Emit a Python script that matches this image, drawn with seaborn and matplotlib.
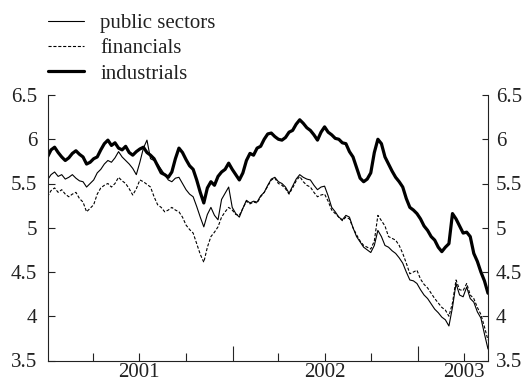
import numpy as np
import pandas as pd
import matplotlib
matplotlib.use("Agg")
import matplotlib.pyplot as plt
import seaborn as sns

# Weekly yields (%), starting on the first Monday of 2001
start_date = "2001-01-01"

public_sectors = [
    5.54, 5.60, 5.63, 5.58, 5.60, 5.55, 5.57, 5.60, 5.56, 5.53,
    5.52, 5.46, 5.50, 5.54, 5.62, 5.66, 5.72, 5.76, 5.74, 5.79,
    5.86, 5.80, 5.76, 5.72, 5.67, 5.60, 5.74, 5.90, 5.99, 5.78,
    5.76, 5.72, 5.66, 5.60, 5.54, 5.52, 5.56, 5.57, 5.50, 5.43,
    5.38, 5.35, 5.24, 5.12, 5.01, 5.15, 5.23, 5.14, 5.09, 5.32,
    5.39, 5.46, 5.23, 5.16, 5.12, 5.22, 5.31, 5.28, 5.30, 5.29,
    5.36, 5.40, 5.48, 5.55, 5.57, 5.52, 5.50, 5.46, 5.39, 5.47,
    5.55, 5.60, 5.57, 5.55, 5.54, 5.48, 5.43, 5.46, 5.47, 5.36,
    5.23, 5.18, 5.12, 5.09, 5.14, 5.12, 5.00, 4.90, 4.84, 4.78,
    4.75, 4.72, 4.80, 4.97, 4.90, 4.80, 4.78, 4.74, 4.71, 4.66,
    4.60, 4.50, 4.41, 4.40, 4.37, 4.30, 4.24, 4.20, 4.14, 4.08,
    4.04, 3.99, 3.96, 3.89, 4.10, 4.37, 4.24, 4.22, 4.33, 4.20,
    4.16, 4.05, 3.98, 3.80, 3.63,
]

financials = [
    5.35, 5.42, 5.45, 5.40, 5.43, 5.38, 5.35, 5.38, 5.40, 5.33,
    5.29, 5.18, 5.22, 5.26, 5.38, 5.45, 5.48, 5.50, 5.46, 5.50,
    5.57, 5.53, 5.50, 5.44, 5.37, 5.44, 5.54, 5.52, 5.49, 5.46,
    5.35, 5.26, 5.23, 5.18, 5.20, 5.23, 5.20, 5.18, 5.12, 5.03,
    4.98, 4.94, 4.82, 4.70, 4.61, 4.78, 4.90, 4.95, 5.01, 5.12,
    5.18, 5.23, 5.20, 5.15, 5.14, 5.22, 5.30, 5.27, 5.29, 5.28,
    5.35, 5.40, 5.47, 5.54, 5.56, 5.50, 5.48, 5.44, 5.38, 5.45,
    5.53, 5.58, 5.52, 5.48, 5.46, 5.40, 5.35, 5.37, 5.38, 5.30,
    5.20, 5.16, 5.12, 5.08, 5.12, 5.10, 5.00, 4.92, 4.85, 4.80,
    4.78, 4.76, 4.85, 5.14, 5.08, 5.02, 4.90, 4.88, 4.86, 4.80,
    4.71, 4.60, 4.48, 4.50, 4.52, 4.42, 4.36, 4.32, 4.26, 4.20,
    4.15, 4.10, 4.07, 4.00, 4.15, 4.41, 4.30, 4.29, 4.37, 4.24,
    4.20, 4.10, 4.02, 3.88, 3.73,
]

industrials = [
    5.80, 5.88, 5.91, 5.85, 5.80, 5.76, 5.79, 5.84, 5.87, 5.83,
    5.80, 5.72, 5.74, 5.78, 5.80, 5.88, 5.95, 5.99, 5.93, 5.96,
    5.90, 5.88, 5.92, 5.85, 5.82, 5.86, 5.89, 5.91, 5.85, 5.82,
    5.78, 5.70, 5.62, 5.60, 5.57, 5.63, 5.78, 5.90, 5.85, 5.77,
    5.70, 5.66, 5.54, 5.40, 5.28, 5.45, 5.52, 5.48, 5.58, 5.63,
    5.66, 5.73, 5.66, 5.60, 5.54, 5.62, 5.76, 5.84, 5.82, 5.90,
    5.92, 6.00, 6.06, 6.07, 6.03, 6.00, 5.99, 6.02, 6.08, 6.10,
    6.17, 6.22, 6.18, 6.13, 6.10, 6.05, 5.99, 6.08, 6.14, 6.08,
    6.05, 6.01, 6.00, 5.96, 5.95, 5.86, 5.80, 5.68, 5.56, 5.52,
    5.55, 5.62, 5.85, 6.00, 5.95, 5.80, 5.72, 5.64, 5.57, 5.52,
    5.46, 5.33, 5.23, 5.20, 5.16, 5.10, 5.02, 4.97, 4.90, 4.86,
    4.78, 4.73, 4.78, 4.82, 5.16, 5.10, 5.02, 4.94, 4.95, 4.90,
    4.71, 4.62, 4.50, 4.40, 4.26,
]

series_names = ["public sectors", "financials", "industrials"]

y_ticks = [3.5, 4, 4.5, 5, 5.5, 6, 6.5]
y_tick_labels = ["3.5", "4", "4.5", "5", "5.5", "6", "6.5"]

quarter_ticks = ["2001-04-01", "2001-07-01", "2001-10-01",
                 "2002-04-01", "2002-07-01", "2002-10-01", "2003-04-01"]
year_ticks = ["2002-01-01", "2003-01-01"]
labelled_quarters = {"2001-07-01": "2001", "2002-07-01": "2002",
                     "2003-04-01": "2003"}

dates = pd.date_range(start_date, periods=len(public_sectors), freq="7D")
df = pd.DataFrame({
    "date": np.tile(dates, 3),
    "yield": public_sectors + financials + industrials,
    "series": np.repeat(series_names, len(dates)),
})

sns.set_style("ticks")
plt.rcParams["font.family"] = ["Liberation Serif", "DejaVu Serif"]
plt.rcParams["font.size"] = 15

text_color = "#222222"
fig = plt.figure(figsize=(5.25, 3.81), dpi=100)
ax = fig.add_axes([47.5 / 525, 1 - 360.5 / 381, 440.5 / 525, 265.5 / 381])

styles = {
    "public sectors": dict(lw=0.8, ls="-"),
    "financials": dict(lw=0.8, ls=(0, (2.8, 1.6))),
    "industrials": dict(lw=2.3, ls="-"),
}
for name in series_names:
    sns.lineplot(data=df[df["series"] == name], x="date", y="yield",
                 ax=ax, color="black", label=name, **styles[name])

ax.set_xlim(dates[0], dates[-1])
ax.set_ylim(3.5, 6.5)
ax.set_xlabel("")
ax.set_ylabel("")

ax.set_yticks(y_ticks)
ax.set_yticklabels(y_tick_labels)
ax.tick_params(axis="y", direction="in", length=5, width=0.8,
               left=True, right=False, labelleft=True, labelright=False,
               labelsize=15, pad=7.5, colors=text_color)

# mirrored scale on the right-hand side
ax_r = ax.twinx()
ax_r.set_ylim(ax.get_ylim())
ax_r.set_yticks(y_ticks)
ax_r.set_yticklabels(y_tick_labels)
ax_r.tick_params(axis="y", direction="in", length=4, width=0.8,
                 labelsize=15, pad=5.5, colors=text_color)
for side in ax_r.spines:
    ax_r.spines[side].set_visible(False)

# year boundaries get the long ticks, quarters the short labelled ones
ax.set_xticks(pd.to_datetime(year_ticks))
ax.set_xticklabels([""] * len(year_ticks))
ax.set_xticks(pd.to_datetime(quarter_ticks), minor=True)
ax.set_xticklabels([labelled_quarters.get(q, "") for q in quarter_ticks],
                   minor=True)
ax.tick_params(axis="x", which="major", direction="in", length=11, width=0.8)
ax.tick_params(axis="x", which="minor", direction="in", length=5.5,
               width=0.8, labelsize=15, pad=2, colors=text_color)

for side in ["left", "right", "bottom"]:
    ax.spines[side].set_linewidth(0.8)
    ax.spines[side].set_color(text_color)
ax.spines["top"].set_visible(False)

handles, labels = ax.get_legend_handles_labels()
ax.get_legend().remove()
fig.legend(handles, labels, loc="upper left",
           bbox_to_anchor=(40 / 525, 1 - 5 / 381), frameon=False,
           fontsize=15, handlelength=1.7, handletextpad=0.8,
           labelspacing=0.28, borderaxespad=0, labelcolor=text_color)

fig.savefig("out.png", dpi=100)
